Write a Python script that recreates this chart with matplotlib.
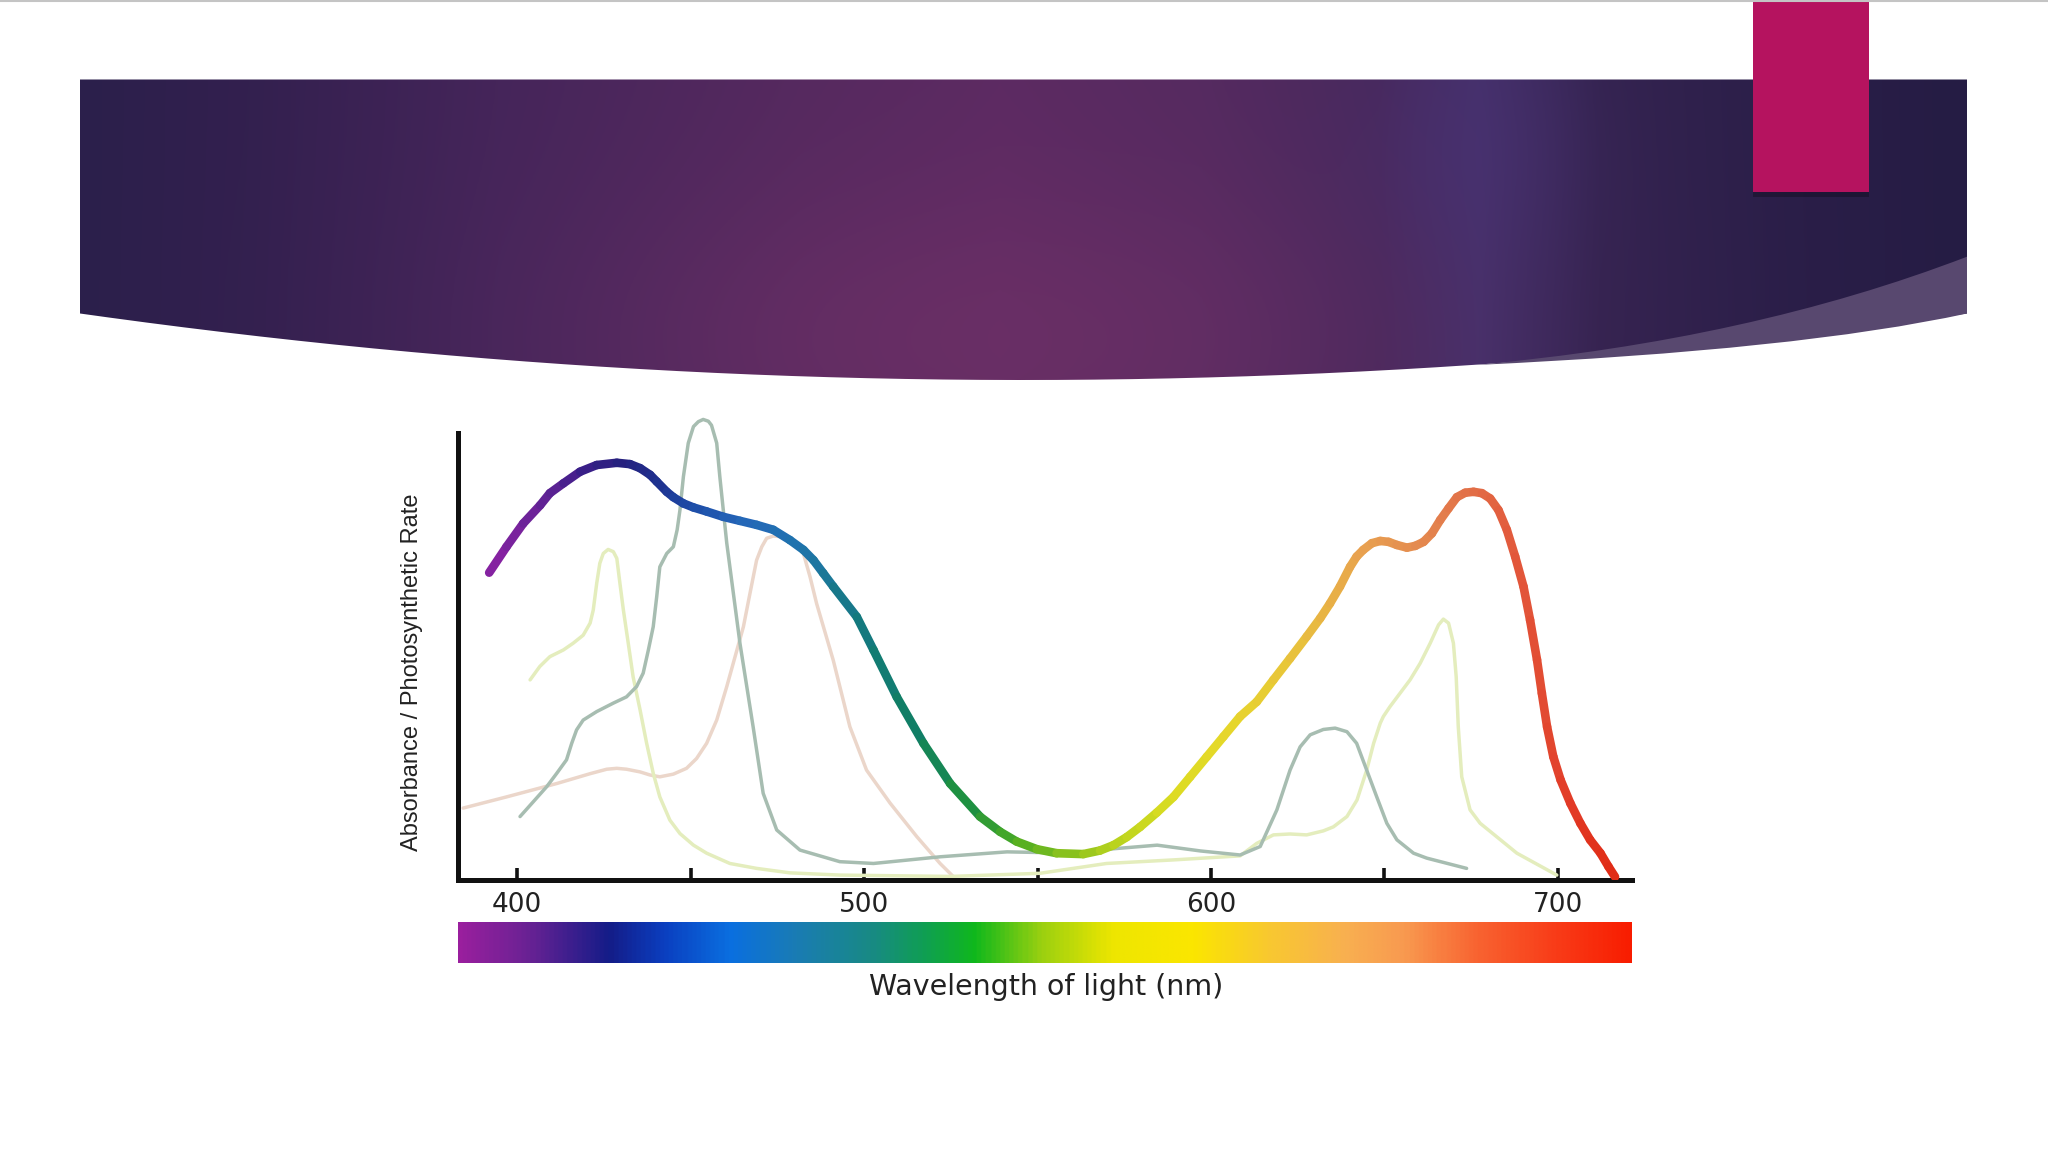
import numpy as np
import matplotlib
matplotlib.use("Agg")
import matplotlib.pyplot as plt
from matplotlib.collections import LineCollection
from matplotlib.colors import LinearSegmentedColormap, to_rgb
from matplotlib.patches import Rectangle, PathPatch
from matplotlib.path import Path
from matplotlib import font_manager

# ---- data (wavelength in nm, relative height 0..1) ----
# action spectrum (thick curve coloured by wavelength)
action_nm = [391.9, 396.9, 401.7, 406.6, 409.4, 413.3, 418.1, 422.9, 428.7, 432.5,
             435.4, 438.3, 440.2, 443.1, 445.0, 447.9, 450.8, 454.6, 459.4, 464.2,
             469.0, 473.8, 478.6, 482.5, 485.4, 488.2, 491.1, 497.9, 502.7, 509.4,
             517.1, 524.8, 533.4, 539.2, 544.0, 549.8, 555.5, 563.2, 568.0, 571.9,
             575.7, 579.6, 584.4, 589.2, 594.0, 598.8, 603.6, 608.4, 613.2, 618.0,
             622.8, 627.6, 631.5, 634.3, 637.2, 640.1, 642.0, 643.9, 646.4, 648.8,
             651.2, 653.6, 656.5, 658.9, 661.3, 663.7, 666.1, 668.5, 670.9, 673.3,
             675.7, 678.1, 680.5, 682.9, 685.3, 687.7, 690.1, 692.0, 694.0, 695.4,
             696.9, 698.7, 700.8, 703.6, 706.5, 709.3, 712.3, 714.6, 716.5]
action_val = [0.688, 0.746, 0.798, 0.839, 0.866, 0.888, 0.914, 0.929, 0.934, 0.931,
              0.922, 0.907, 0.892, 0.869, 0.857, 0.843, 0.834, 0.825, 0.813, 0.804,
              0.795, 0.784, 0.761, 0.739, 0.716, 0.687, 0.657, 0.589, 0.515, 0.410,
              0.306, 0.216, 0.142, 0.108, 0.086, 0.069, 0.060, 0.058, 0.066, 0.078,
              0.096, 0.119, 0.151, 0.186, 0.231, 0.276, 0.321, 0.366, 0.399, 0.448,
              0.496, 0.545, 0.586, 0.619, 0.657, 0.701, 0.724, 0.739, 0.754, 0.759,
              0.757, 0.750, 0.744, 0.748, 0.757, 0.776, 0.806, 0.832, 0.857, 0.867,
              0.869, 0.866, 0.854, 0.828, 0.784, 0.724, 0.657, 0.582, 0.493, 0.418,
              0.343, 0.276, 0.224, 0.172, 0.127, 0.090, 0.060, 0.030, 0.007]

# chlorophyll a (pale yellow-green)
chla_nm = [403.7, 406.5, 409.4, 413.3, 416.1, 419.0, 421.0, 421.9, 422.9, 423.8,
           424.8, 426.2, 427.7, 428.7, 429.6, 430.6, 432.0, 433.4, 435.4, 437.3,
           439.2, 441.1, 444.0, 446.9, 450.8, 454.6, 461.3, 469.0, 478.6, 493.0,
           525.0, 550.7, 569.9, 589.2, 608.4, 613.2, 618.0, 622.8, 627.6, 632.4,
           635.3, 639.2, 642.1, 644.9, 646.9, 648.8, 649.7, 651.6, 654.5, 657.4,
           660.3, 663.2, 665.6, 667.0, 668.5, 669.9, 670.7, 671.3, 672.3, 674.7,
           677.6, 688.2, 699.7]
chla_val = [0.448, 0.478, 0.500, 0.515, 0.530, 0.548, 0.575, 0.604, 0.664, 0.709,
            0.731, 0.740, 0.735, 0.720, 0.664, 0.604, 0.530, 0.455, 0.381, 0.306,
            0.239, 0.186, 0.134, 0.104, 0.078, 0.060, 0.037, 0.026, 0.016, 0.011,
            0.008, 0.015, 0.037, 0.045, 0.054, 0.082, 0.101, 0.103, 0.101, 0.110,
            0.119, 0.142, 0.179, 0.246, 0.306, 0.351, 0.366, 0.388, 0.418, 0.448,
            0.485, 0.530, 0.571, 0.584, 0.575, 0.530, 0.455, 0.343, 0.231, 0.157,
            0.127, 0.060, 0.011]

# chlorophyll b (grey-green)
chlb_nm = [400.8, 404.6, 408.5, 411.4, 414.2, 415.7, 417.1, 419.0, 422.9, 427.7,
           431.5, 434.4, 436.3, 437.8, 439.2, 440.2, 441.1, 443.1, 445.0, 446.1,
           446.9, 447.9, 449.3, 450.8, 452.2, 453.6, 455.1, 456.0, 457.5, 458.4,
           459.4, 460.4, 464.2, 468.0, 470.9, 474.8, 481.5, 493.0, 502.7, 522.0,
           541.2, 560.4, 572.0, 584.5, 597.0, 608.4, 614.2, 619.0, 622.8, 625.7,
           628.6, 632.4, 635.8, 639.2, 642.0, 644.9, 647.8, 650.7, 653.6, 658.4,
           662.2, 673.7]
chlb_val = [0.142, 0.175, 0.209, 0.239, 0.269, 0.306, 0.336, 0.358, 0.377, 0.396,
            0.410, 0.433, 0.463, 0.515, 0.567, 0.634, 0.701, 0.731, 0.746, 0.784,
            0.828, 0.903, 0.978, 1.015, 1.026, 1.031, 1.027, 1.018, 0.978, 0.903,
            0.828, 0.754, 0.530, 0.343, 0.194, 0.112, 0.067, 0.041, 0.037, 0.052,
            0.063, 0.060, 0.070, 0.078, 0.065, 0.056, 0.075, 0.157, 0.246, 0.298,
            0.325, 0.337, 0.340, 0.332, 0.306, 0.246, 0.186, 0.127, 0.090, 0.060,
            0.049, 0.026]

# carotenoids (pale pink)
carot_nm = [384.4, 396.9, 411.4, 421.0, 425.8, 428.7, 431.5, 435.4, 438.3, 441.1,
            445.0, 448.8, 451.7, 454.6, 457.5, 460.4, 462.8, 465.2, 467.1, 469.0,
            470.5, 471.9, 473.8, 475.7, 477.7, 480.1, 482.5, 484.4, 486.3, 491.1,
            495.9, 500.7, 507.5, 515.2, 521.9, 525.8]
carot_val = [0.161, 0.186, 0.216, 0.238, 0.248, 0.250, 0.248, 0.242, 0.235, 0.231,
             0.237, 0.250, 0.272, 0.306, 0.358, 0.433, 0.500, 0.567, 0.642, 0.716,
             0.746, 0.765, 0.770, 0.769, 0.765, 0.754, 0.731, 0.679, 0.619, 0.492,
             0.343, 0.246, 0.172, 0.097, 0.037, 0.007]

x_ticks = [400, 500, 600, 700]
x_minor = [450, 550, 650]
x_label = "Wavelength of light (nm)"
y_label = "Absorbance / Photosynthetic Rate"

# colour stops: thick curve and spectrum bar
curve_nm = [391, 405, 420, 430, 440, 450, 465, 480, 490, 500, 515, 530, 545, 560,
            575, 590, 605, 625, 645, 660, 675, 690, 705, 718]
curve_col = ['#8b22a3', '#6a2398', '#3a1f88', '#27207e', '#1e2f8e', '#1d4aa6',
             '#2566b8', '#1f72b0', '#1b7896', '#14797e', '#107f62', '#1f9140',
             '#4fad22', '#8cc21e', '#bcd41e', '#dcdc22', '#e6d82a', '#e8c23c',
             '#e8a050', '#e48c50', '#e27048', '#e2563a', '#e23a26', '#e02a14']
bar_nm = [382.6, 402, 426, 442, 461, 480, 502, 518, 532, 551, 572, 595, 617, 639,
          656, 678, 700, 722.3]
bar_col = ['#9a1f9e', '#6b2294', '#141c88', '#0b3fc0', '#0a6fe0', '#1a7cb4',
           '#188a84', '#0fa050', '#10b81c', '#9ad010', '#eee600', '#fbe600',
           '#f8c830', '#f8b050', '#f89a50', '#f86230', '#f83c18', '#f81c00']


def stops_cmap(nm, cols):
    lo, hi = nm[0], nm[-1]
    return LinearSegmentedColormap.from_list(
        "s", [((v - lo) / (hi - lo), c) for v, c in zip(nm, cols)]), lo, hi


installed = {f.name for f in font_manager.fontManager.ttflist}
narrow = 'Liberation Sans Narrow' in installed

W, H = 2048, 1152
fig = plt.figure(figsize=(W / 100, H / 100), dpi=100, facecolor='white')

# ---- slide decoration ----
bg = fig.add_axes([0, 0, 1, 1])
bg.set_xlim(0, W)
bg.set_ylim(H, 0)
bg.axis('off')

bx0, bx1, by0, by1, bdip = 80, 1967, 79.5, 313.5, 66.5
xs = np.linspace(bx1, bx0, 200)
bottom = by1 + bdip * (1 - ((xs - (bx0 + bx1) / 2) / ((bx1 - bx0) / 2)) ** 2)
verts = [(bx0, by0), (bx1, by0)] + list(zip(xs, bottom)) + [(bx0, by0)]
banner = PathPatch(Path(verts), facecolor='none', edgecolor='none')
bg.add_patch(banner)

gx = np.linspace(bx0, bx1, 600)
gy = np.linspace(by0, by1 + bdip, 120)
GX, GY = np.meshgrid(gx, gy)
gstops = [80, 250, 500, 800, 1000, 1200, 1380, 1480, 1600, 1800, 1967]
gcols = ['#2b1f4b', '#33204f', '#45255a', '#55295f', '#5c2a62', '#552a60',
         '#47285c', '#44306a', '#342350', '#2a1e48', '#251c44']
grgb = np.array([to_rgb(c) for c in gcols])
img = np.stack([np.interp(GX, gstops, grgb[:, k]) for k in range(3)], axis=-1)
glow = np.exp(-(((GX - 990) / 380) ** 2 + ((GY - 340) / 160) ** 2))[..., None]
img = img * (1 - 0.55 * glow) + np.array(to_rgb('#743268')) * 0.55 * glow
spot = np.exp(-(((GX - 1470) / 110) ** 2 + ((GY - 150) / 120) ** 2))[..., None]
img = img * (1 - 0.4 * spot) + np.array(to_rgb('#4a3275')) * 0.4 * spot
im = bg.imshow(img, extent=[bx0, bx1, by1 + bdip, by0], origin='upper',
               aspect='auto', zorder=1)
im.set_clip_path(banner)

wedge = Path([(1476, 365), (1750, 340), (bx1, 256.7), (bx1, by1), (1800, 350),
              (1476, 365), (1476, 365)],
             [Path.MOVETO, Path.CURVE3, Path.CURVE3, Path.LINETO, Path.CURVE3,
              Path.CURVE3, Path.CLOSEPOLY])
bg.add_patch(PathPatch(wedge, facecolor='#58486f', edgecolor='none', zorder=2))

bg.add_patch(Rectangle((1753, 192), 116, 5, facecolor='black', alpha=0.25,
                       edgecolor='none', zorder=3))
bg.add_patch(Rectangle((1753, 0), 116, 192, facecolor='#b5135f',
                       edgecolor='none', zorder=4))
bg.plot([0, W], [1, 1], color='#c4c4c4', lw=1.5, zorder=5)

# ---- chart ----
x_lo, x_hi = 383.0, 721.3
y_top = 1.06
ax = fig.add_axes([458.3 / W, (H - 880) / H, (1631.7 - 458.3) / W, 446.7 * y_top / H])
ax.set_xlim(x_lo, x_hi)
ax.set_ylim(0, y_top)
ax.patch.set_alpha(0)
for s in ['top', 'right']:
    ax.spines[s].set_visible(False)
ax.spines['left'].set_bounds(0, 1.0)
for s in ['left', 'bottom']:
    ax.spines[s].set_linewidth(3.6)
    ax.spines[s].set_color('#111111')
ax.set_yticks([])
ax.set_xticks(x_ticks)
ax.set_xticks(x_minor, minor=True)
ax.tick_params(axis='x', which='both', direction='in', length=9, width=2.6,
               color='#111111', pad=9, labelsize=19, labelcolor='#222222')

style = dict(lw=2.5, solid_joinstyle='round', solid_capstyle='round')
ax.plot(carot_nm, carot_val, color='#ebd6ca', zorder=2, **style)
ax.plot(chla_nm, chla_val, color='#e4edbd', zorder=2, **style)
ax.plot(chlb_nm, chlb_val, color='#a7bdb1', zorder=3, **style)

ccmap, clo, chi = stops_cmap(curve_nm, curve_col)
pts = np.column_stack([action_nm, action_val])
segs = np.stack([pts[:-1], pts[1:]], axis=1)
mid = (np.array(action_nm[:-1]) + np.array(action_nm[1:])) / 2
lc = LineCollection(segs, colors=ccmap((mid - clo) / (chi - clo)), linewidths=6.2,
                    capstyle='round', joinstyle='round', zorder=4)
ax.add_collection(lc)

# spectrum bar
bcmap, blo, bhi = stops_cmap(bar_nm, bar_col)
bax = fig.add_axes([458.3 / W, (H - 963.3) / H, (1631.7 - 458.3) / W, 41 / H])
bax.set_xlim(x_lo, x_hi)
bax.set_ylim(0, 1)
bax.axis('off')
bax.imshow(np.linspace(0, 1, 800)[None, :], cmap=bcmap, aspect='auto',
           extent=[blo, bhi, 0, 1], interpolation='bilinear')

fig.text(1046 / W, 1 - 987 / H, x_label, ha='center', va='center',
         fontsize=20.5, color='#222222')
if narrow:
    fig.text(412 / W, 1 - 672 / H, y_label, rotation=90, ha='center', va='center',
             fontsize=20.3, color='#222222', family='Liberation Sans Narrow')
else:
    fig.text(412 / W, 1 - 672 / H, y_label, rotation=90, ha='center', va='center',
             fontsize=17, color='#222222', family='Liberation Sans')

fig.savefig('out.png', dpi=100, facecolor='white')
